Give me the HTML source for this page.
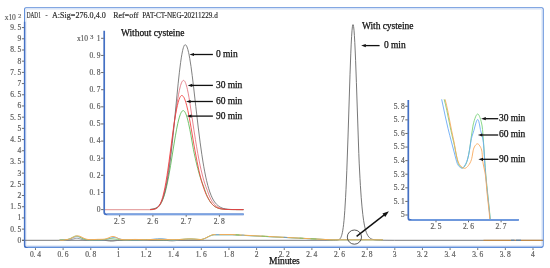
<!DOCTYPE html>
<html lang="en"><head><meta charset="utf-8"><title>Chromatogram</title>
<style>
html,body{margin:0;padding:0;background:#fff;}
body{width:550px;height:268px;overflow:hidden;}
svg{display:block;}
text{white-space:pre;}
</style></head><body>
<svg width="550" height="268" viewBox="0 0 550 268">
<rect x="0" y="0" width="550" height="268" fill="#ffffff"/>
<path d="M24.6,247.35 L24.6,9.1 Q24.6,7.8 25.900000000000002,7.8 L541.9000000000001,7.8 Q543.2,7.8 543.2,9.1 L543.2,245.35 Q543.2,247.35 541.2,247.35" fill="none" stroke="#5b8bd9" stroke-width="1.1"/>
<path d="M26.0,245.75 L26.0,9.2 L541.8000000000001,9.2 L541.8000000000001,245.75 Z" fill="none" stroke="#dfe8f7" stroke-width="1"/>
<path d="M22.40,240.30 L333.20,240.30 L335.60,240.27 L337.20,240.16 L338.40,239.90 L339.20,239.51 L339.60,239.21 L340.00,238.81 L340.40,238.29 L340.80,237.61 L341.20,236.73 L341.60,235.61 L342.00,234.19 L342.40,232.42 L342.80,230.23 L343.20,227.55 L343.60,224.32 L344.00,220.45 L344.40,215.87 L344.80,210.52 L345.60,197.29 L346.00,189.34 L346.80,170.75 L348.00,136.97 L350.00,74.75 L350.80,53.17 L351.20,44.14 L351.60,36.61 L352.00,30.76 L352.40,26.78 L352.80,24.75 L353.20,24.73 L353.60,26.59 L354.00,30.26 L354.40,35.64 L354.80,42.60 L355.20,50.97 L355.60,60.55 L356.40,82.43 L358.80,153.41 L359.20,163.10 L360.00,178.72 L360.40,185.55 L361.20,197.34 L362.00,206.87 L362.80,214.47 L363.60,220.45 L364.40,225.12 L365.20,228.72 L365.60,230.20 L366.40,232.62 L366.80,233.61 L367.60,235.22 L368.00,235.87 L368.80,236.94 L369.60,237.75 L370.40,238.36 L371.60,239.01 L372.80,239.44 L374.40,239.80 L376.00,240.00 L378.00,240.14 L380.80,240.23 L394.40,240.30 L542.80,240.30" fill="none" stroke="#5e5e5e" stroke-width="0.85" stroke-linejoin="round" stroke-linecap="round" />
<path d="M60.40,240.30 L66.00,240.25 L67.60,240.17 L68.80,240.06 L70.00,239.87 L71.20,239.60 L74.00,238.79 L75.20,238.49 L76.40,238.32 L77.20,238.30 L78.00,238.36 L79.20,238.58 L82.40,239.50 L83.60,239.79 L84.80,240.00 L86.00,240.14 L87.60,240.24 L89.60,240.29 L101.20,240.31 L104.00,240.36 L106.00,240.53 L109.60,241.14 L111.20,241.30 L112.80,241.22 L116.00,240.67 L117.60,240.46 L119.20,240.36 L121.20,240.31 L163.60,240.31 L166.40,240.41 L170.40,240.82 L172.00,240.90 L173.60,240.82 L177.20,240.43 L179.60,240.32 L200.00,240.30" fill="none" stroke="#777" stroke-width="0.7" stroke-linejoin="round" stroke-linecap="round" />
<path d="M60.00,239.87 L65.00,239.79 L66.50,239.69 L68.00,239.48 L69.50,239.12 L70.50,238.80 L74.00,237.34 L75.00,236.99 L76.00,236.75 L77.00,236.67 L78.00,236.75 L79.00,236.99 L80.00,237.34 L83.00,238.61 L84.00,238.97 L85.00,239.26 L86.00,239.48 L87.00,239.63 L88.50,239.77 L90.00,239.83 L100.50,239.86 L103.00,239.79 L104.50,239.69 L106.00,239.48 L107.50,239.15 L111.00,238.01 L112.00,237.73 L113.00,237.54 L114.00,237.47 L115.00,237.54 L116.00,237.73 L117.00,238.01 L120.00,239.01 L121.50,239.39 L123.50,239.69 L126.00,239.83 L140.00,239.87 L146.50,239.77 L148.50,239.67 L150.50,239.50 L157.50,238.68 L160.00,238.57 L162.00,238.64 L164.00,238.85 L166.50,239.26 L170.50,240.11 L171.50,240.24 L172.50,240.29 L174.00,240.22 L177.50,239.82 L179.50,239.66 L185.50,239.30 L188.50,239.19 L190.50,239.17 L193.00,239.23 L200.50,239.63 L201.00,239.60 L202.00,239.45 L203.00,239.19 L204.00,238.84 L205.50,238.19 L209.50,236.21 L211.50,235.39 L213.00,234.98 L214.00,234.85 L214.50,234.84 L232.00,234.84 L332.00,239.87 L382.50,239.87" fill="none" stroke="#5fa8e8" stroke-width="0.8" stroke-linejoin="round" stroke-linecap="round" />
<path d="M60.00,239.86 L64.50,239.79 L66.00,239.67 L67.50,239.43 L69.00,239.00 L70.00,238.60 L71.00,238.10 L73.50,236.74 L74.50,236.31 L75.50,236.03 L76.50,235.97 L77.50,236.12 L78.50,236.46 L79.50,236.95 L82.00,238.31 L83.00,238.77 L84.00,239.14 L85.00,239.41 L86.00,239.59 L87.50,239.75 L89.00,239.82 L96.50,239.86 L101.00,239.76 L104.00,239.51 L109.00,238.78 L111.00,238.66 L113.00,238.78 L117.50,239.44 L119.50,239.66 L121.50,239.78 L124.50,239.85 L137.50,239.83 L150.00,239.56 L162.50,239.83 L172.50,239.82 L178.00,239.63 L186.50,238.98 L190.00,238.86 L193.50,238.98 L200.50,239.52 L201.00,239.50 L202.00,239.37 L203.00,239.12 L204.00,238.77 L205.50,238.12 L209.50,236.11 L211.50,235.28 L213.00,234.87 L214.00,234.74 L214.50,234.72 L232.00,234.72 L332.00,239.86 L382.50,239.86" fill="none" stroke="#7cc46a" stroke-width="0.8" stroke-linejoin="round" stroke-linecap="round" />
<path d="M60.00,240.05 L61.50,240.31 L62.50,240.30 L64.50,239.91 L67.00,239.57 L68.50,239.28 L69.50,239.00 L71.00,238.42 L74.50,236.66 L75.50,236.25 L76.50,235.96 L77.50,235.85 L78.50,235.93 L79.00,236.03 L80.00,236.36 L81.00,236.80 L84.00,238.32 L85.00,238.73 L86.00,239.06 L87.00,239.31 L88.00,239.47 L90.00,239.62 L92.00,239.61 L97.50,239.39 L102.50,239.29 L104.50,239.13 L106.00,238.83 L107.00,238.53 L111.00,236.84 L112.00,236.58 L113.00,236.50 L114.00,236.62 L115.00,236.92 L116.00,237.34 L118.50,238.56 L120.00,239.13 L121.00,239.39 L122.00,239.57 L124.00,239.74 L127.00,239.73 L132.50,239.50 L135.00,239.45 L137.50,239.49 L143.00,239.69 L146.50,239.70 L156.50,239.40 L160.00,239.35 L163.50,239.39 L171.50,239.64 L175.50,239.67 L179.50,239.53 L187.00,239.03 L190.00,238.95 L193.50,239.06 L200.50,239.54 L201.00,239.52 L202.00,239.37 L203.00,239.10 L204.00,238.74 L205.50,238.06 L209.50,235.99 L210.50,235.53 L211.50,235.13 L213.00,234.70 L214.00,234.57 L214.50,234.55 L232.00,234.55 L332.00,239.85 L382.50,239.85" fill="none" stroke="#f7ab55" stroke-width="0.95" stroke-linejoin="round" stroke-linecap="round" />
<path d="M236.00,234.76 L239.00,234.92" fill="none" stroke="#7cc46a" stroke-width="0.9" stroke-linejoin="round" stroke-linecap="round" />
<path d="M262.00,236.14 L265.00,236.30" fill="none" stroke="#7cc46a" stroke-width="0.9" stroke-linejoin="round" stroke-linecap="round" />
<path d="M266.00,236.35 L268.00,236.46" fill="none" stroke="#7cc46a" stroke-width="0.9" stroke-linejoin="round" stroke-linecap="round" />
<path d="M284.00,237.31 L287.00,237.47" fill="none" stroke="#5b9ad0" stroke-width="0.9" stroke-linejoin="round" stroke-linecap="round" />
<path d="M300.00,238.15 L303.00,238.31" fill="none" stroke="#7cc46a" stroke-width="0.9" stroke-linejoin="round" stroke-linecap="round" />
<path d="M311.00,238.74 L316.00,239.00" fill="none" stroke="#7cc46a" stroke-width="0.9" stroke-linejoin="round" stroke-linecap="round" />
<path d="M242.00,235.08 L244.00,235.19" fill="none" stroke="#8fb4d8" stroke-width="0.9" stroke-linejoin="round" stroke-linecap="round" />
<path d="M216.00,234.55 L219.00,234.55" fill="none" stroke="#6fb0e0" stroke-width="0.9" stroke-linejoin="round" stroke-linecap="round" />
<line x1="483.5" y1="240.3" x2="542.6" y2="240.3" stroke="#c98738" stroke-width="1.0"/>
<line x1="511" y1="240.20000000000002" x2="514.5" y2="240.20000000000002" stroke="#3f7fc0" stroke-width="1.0"/>
<line x1="516" y1="240.20000000000002" x2="521" y2="240.20000000000002" stroke="#3f7fc0" stroke-width="1.0"/>
<path d="M24.6,21.8 L24.6,245.15 Q24.6,247.35 26.8,247.35 L541.7,247.35" fill="none" stroke="#4470c4" stroke-width="1.45"/>
<path d="M27.6,247.35 L541.7,247.35" fill="none" stroke="#5f8fdb" stroke-width="1.45"/>
<line x1="21.9" y1="240.30" x2="24.0" y2="240.30" stroke="#585858" stroke-width="0.9"/>
<text y="242.70" font-family='"Liberation Serif", "DejaVu Serif", serif' fill="#5c5c5c" stroke="#5c5c5c" stroke-width="0.18" xml:space="preserve"><tspan font-size="7.5" x="17.54">0</tspan></text>
<line x1="21.9" y1="229.11" x2="24.0" y2="229.11" stroke="#585858" stroke-width="0.9"/>
<text y="231.51" font-family='"Liberation Serif", "DejaVu Serif", serif' fill="#5c5c5c" stroke="#5c5c5c" stroke-width="0.18" xml:space="preserve"><tspan font-size="7.5" x="10.32 13.93 17.54">0.5</tspan></text>
<line x1="21.9" y1="217.91" x2="24.0" y2="217.91" stroke="#585858" stroke-width="0.9"/>
<text y="220.31" font-family='"Liberation Serif", "DejaVu Serif", serif' fill="#5c5c5c" stroke="#5c5c5c" stroke-width="0.18" xml:space="preserve"><tspan font-size="7.5" x="17.54">1</tspan></text>
<line x1="21.9" y1="206.72" x2="24.0" y2="206.72" stroke="#585858" stroke-width="0.9"/>
<text y="209.12" font-family='"Liberation Serif", "DejaVu Serif", serif' fill="#5c5c5c" stroke="#5c5c5c" stroke-width="0.18" xml:space="preserve"><tspan font-size="7.5" x="10.32 13.93 17.54">1.5</tspan></text>
<line x1="21.9" y1="195.52" x2="24.0" y2="195.52" stroke="#585858" stroke-width="0.9"/>
<text y="197.92" font-family='"Liberation Serif", "DejaVu Serif", serif' fill="#5c5c5c" stroke="#5c5c5c" stroke-width="0.18" xml:space="preserve"><tspan font-size="7.5" x="17.54">2</tspan></text>
<line x1="21.9" y1="184.33" x2="24.0" y2="184.33" stroke="#585858" stroke-width="0.9"/>
<text y="186.73" font-family='"Liberation Serif", "DejaVu Serif", serif' fill="#5c5c5c" stroke="#5c5c5c" stroke-width="0.18" xml:space="preserve"><tspan font-size="7.5" x="10.32 13.93 17.54">2.5</tspan></text>
<line x1="21.9" y1="173.13" x2="24.0" y2="173.13" stroke="#585858" stroke-width="0.9"/>
<text y="175.53" font-family='"Liberation Serif", "DejaVu Serif", serif' fill="#5c5c5c" stroke="#5c5c5c" stroke-width="0.18" xml:space="preserve"><tspan font-size="7.5" x="17.54">3</tspan></text>
<line x1="21.9" y1="161.94" x2="24.0" y2="161.94" stroke="#585858" stroke-width="0.9"/>
<text y="164.34" font-family='"Liberation Serif", "DejaVu Serif", serif' fill="#5c5c5c" stroke="#5c5c5c" stroke-width="0.18" xml:space="preserve"><tspan font-size="7.5" x="10.32 13.93 17.54">3.5</tspan></text>
<line x1="21.9" y1="150.74" x2="24.0" y2="150.74" stroke="#585858" stroke-width="0.9"/>
<text y="153.14" font-family='"Liberation Serif", "DejaVu Serif", serif' fill="#5c5c5c" stroke="#5c5c5c" stroke-width="0.18" xml:space="preserve"><tspan font-size="7.5" x="17.54">4</tspan></text>
<line x1="21.9" y1="139.55" x2="24.0" y2="139.55" stroke="#585858" stroke-width="0.9"/>
<text y="141.95" font-family='"Liberation Serif", "DejaVu Serif", serif' fill="#5c5c5c" stroke="#5c5c5c" stroke-width="0.18" xml:space="preserve"><tspan font-size="7.5" x="10.32 13.93 17.54">4.5</tspan></text>
<line x1="21.9" y1="128.35" x2="24.0" y2="128.35" stroke="#585858" stroke-width="0.9"/>
<text y="130.75" font-family='"Liberation Serif", "DejaVu Serif", serif' fill="#5c5c5c" stroke="#5c5c5c" stroke-width="0.18" xml:space="preserve"><tspan font-size="7.5" x="17.54">5</tspan></text>
<line x1="21.9" y1="117.16" x2="24.0" y2="117.16" stroke="#585858" stroke-width="0.9"/>
<text y="119.56" font-family='"Liberation Serif", "DejaVu Serif", serif' fill="#5c5c5c" stroke="#5c5c5c" stroke-width="0.18" xml:space="preserve"><tspan font-size="7.5" x="10.32 13.93 17.54">5.5</tspan></text>
<line x1="21.9" y1="105.96" x2="24.0" y2="105.96" stroke="#585858" stroke-width="0.9"/>
<text y="108.36" font-family='"Liberation Serif", "DejaVu Serif", serif' fill="#5c5c5c" stroke="#5c5c5c" stroke-width="0.18" xml:space="preserve"><tspan font-size="7.5" x="17.54">6</tspan></text>
<line x1="21.9" y1="94.77" x2="24.0" y2="94.77" stroke="#585858" stroke-width="0.9"/>
<text y="97.17" font-family='"Liberation Serif", "DejaVu Serif", serif' fill="#5c5c5c" stroke="#5c5c5c" stroke-width="0.18" xml:space="preserve"><tspan font-size="7.5" x="10.32 13.93 17.54">6.5</tspan></text>
<line x1="21.9" y1="83.57" x2="24.0" y2="83.57" stroke="#585858" stroke-width="0.9"/>
<text y="85.97" font-family='"Liberation Serif", "DejaVu Serif", serif' fill="#5c5c5c" stroke="#5c5c5c" stroke-width="0.18" xml:space="preserve"><tspan font-size="7.5" x="17.54">7</tspan></text>
<line x1="21.9" y1="72.38" x2="24.0" y2="72.38" stroke="#585858" stroke-width="0.9"/>
<text y="74.78" font-family='"Liberation Serif", "DejaVu Serif", serif' fill="#5c5c5c" stroke="#5c5c5c" stroke-width="0.18" xml:space="preserve"><tspan font-size="7.5" x="10.32 13.93 17.54">7.5</tspan></text>
<line x1="21.9" y1="61.18" x2="24.0" y2="61.18" stroke="#585858" stroke-width="0.9"/>
<text y="63.58" font-family='"Liberation Serif", "DejaVu Serif", serif' fill="#5c5c5c" stroke="#5c5c5c" stroke-width="0.18" xml:space="preserve"><tspan font-size="7.5" x="17.54">8</tspan></text>
<line x1="21.9" y1="49.99" x2="24.0" y2="49.99" stroke="#585858" stroke-width="0.9"/>
<text y="52.39" font-family='"Liberation Serif", "DejaVu Serif", serif' fill="#5c5c5c" stroke="#5c5c5c" stroke-width="0.18" xml:space="preserve"><tspan font-size="7.5" x="10.32 13.93 17.54">8.5</tspan></text>
<line x1="21.9" y1="38.79" x2="24.0" y2="38.79" stroke="#585858" stroke-width="0.9"/>
<text y="41.19" font-family='"Liberation Serif", "DejaVu Serif", serif' fill="#5c5c5c" stroke="#5c5c5c" stroke-width="0.18" xml:space="preserve"><tspan font-size="7.5" x="17.54">9</tspan></text>
<line x1="21.9" y1="27.59" x2="24.0" y2="27.59" stroke="#585858" stroke-width="0.9"/>
<text y="29.99" font-family='"Liberation Serif", "DejaVu Serif", serif' fill="#5c5c5c" stroke="#5c5c5c" stroke-width="0.18" xml:space="preserve"><tspan font-size="7.5" x="10.32 13.93 17.54">9.5</tspan></text>
<text y="19.90" font-family='"Liberation Serif", "DejaVu Serif", serif' fill="#5c5c5c" stroke="#5c5c5c" stroke-width="0.18" xml:space="preserve"><tspan font-size="7.5" x="4.85 8.46 12.07">x10</tspan></text>
<text y="18.20" font-family='"Liberation Serif", "DejaVu Serif", serif' fill="#5c5c5c" stroke="#5c5c5c" stroke-width="0.18" xml:space="preserve"><tspan font-size="6.2" x="18.35">2</tspan></text>
<text y="17.80" font-family='"Liberation Serif", "DejaVu Serif", serif' fill="#2a2a2a" stroke="#2a2a2a" stroke-width="0.18" xml:space="preserve"><tspan font-size="7.7" stroke-width="0.16" x="26.70" textLength="14.14" lengthAdjust="spacingAndGlyphs">DAD1</tspan> <tspan font-size="7.7" stroke="none" x="45.25">-</tspan> <tspan font-size="7.7" stroke-width="0.16" x="51.97" textLength="53.85" lengthAdjust="spacingAndGlyphs">A:Sig=276.0,4.0</tspan>  <tspan font-size="7.7" stroke-width="0.16" x="113.34" textLength="24.97" lengthAdjust="spacingAndGlyphs">Ref=off</tspan> <tspan font-size="7.7" stroke-width="0.16" x="142.22" textLength="75.51" lengthAdjust="spacingAndGlyphs">PAT-CT-NEG-20211229.d</tspan></text>
<line x1="35.48" y1="248.15" x2="35.48" y2="249.95" stroke="#585858" stroke-width="0.9"/>
<text y="256.70" font-family='"Liberation Serif", "DejaVu Serif", serif' fill="#5c5c5c" stroke="#5c5c5c" stroke-width="0.18" xml:space="preserve"><tspan font-size="7.5" x="29.92 33.53 37.14">0.4</tspan></text>
<line x1="63.12" y1="248.15" x2="63.12" y2="249.95" stroke="#585858" stroke-width="0.9"/>
<text y="256.70" font-family='"Liberation Serif", "DejaVu Serif", serif' fill="#5c5c5c" stroke="#5c5c5c" stroke-width="0.18" xml:space="preserve"><tspan font-size="7.5" x="57.56 61.17 64.78">0.6</tspan></text>
<line x1="90.76" y1="248.15" x2="90.76" y2="249.95" stroke="#585858" stroke-width="0.9"/>
<text y="256.70" font-family='"Liberation Serif", "DejaVu Serif", serif' fill="#5c5c5c" stroke="#5c5c5c" stroke-width="0.18" xml:space="preserve"><tspan font-size="7.5" x="85.20 88.81 92.42">0.8</tspan></text>
<line x1="118.40" y1="248.15" x2="118.40" y2="249.95" stroke="#585858" stroke-width="0.9"/>
<text y="256.70" font-family='"Liberation Serif", "DejaVu Serif", serif' fill="#5c5c5c" stroke="#5c5c5c" stroke-width="0.18" xml:space="preserve"><tspan font-size="7.5" x="116.44">1</tspan></text>
<line x1="146.04" y1="248.15" x2="146.04" y2="249.95" stroke="#585858" stroke-width="0.9"/>
<text y="256.70" font-family='"Liberation Serif", "DejaVu Serif", serif' fill="#5c5c5c" stroke="#5c5c5c" stroke-width="0.18" xml:space="preserve"><tspan font-size="7.5" x="140.47 144.09 147.69">1.2</tspan></text>
<line x1="173.68" y1="248.15" x2="173.68" y2="249.95" stroke="#585858" stroke-width="0.9"/>
<text y="256.70" font-family='"Liberation Serif", "DejaVu Serif", serif' fill="#5c5c5c" stroke="#5c5c5c" stroke-width="0.18" xml:space="preserve"><tspan font-size="7.5" x="168.11 171.72 175.33">1.4</tspan></text>
<line x1="201.32" y1="248.15" x2="201.32" y2="249.95" stroke="#585858" stroke-width="0.9"/>
<text y="256.70" font-family='"Liberation Serif", "DejaVu Serif", serif' fill="#5c5c5c" stroke="#5c5c5c" stroke-width="0.18" xml:space="preserve"><tspan font-size="7.5" x="195.75 199.37 202.97">1.6</tspan></text>
<line x1="228.96" y1="248.15" x2="228.96" y2="249.95" stroke="#585858" stroke-width="0.9"/>
<text y="256.70" font-family='"Liberation Serif", "DejaVu Serif", serif' fill="#5c5c5c" stroke="#5c5c5c" stroke-width="0.18" xml:space="preserve"><tspan font-size="7.5" x="223.40 227.01 230.62">1.8</tspan></text>
<line x1="256.60" y1="248.15" x2="256.60" y2="249.95" stroke="#585858" stroke-width="0.9"/>
<text y="256.70" font-family='"Liberation Serif", "DejaVu Serif", serif' fill="#5c5c5c" stroke="#5c5c5c" stroke-width="0.18" xml:space="preserve"><tspan font-size="7.5" x="254.65">2</tspan></text>
<line x1="284.24" y1="248.15" x2="284.24" y2="249.95" stroke="#585858" stroke-width="0.9"/>
<text y="256.70" font-family='"Liberation Serif", "DejaVu Serif", serif' fill="#5c5c5c" stroke="#5c5c5c" stroke-width="0.18" xml:space="preserve"><tspan font-size="7.5" x="278.68 282.29 285.90">2.2</tspan></text>
<line x1="311.88" y1="248.15" x2="311.88" y2="249.95" stroke="#585858" stroke-width="0.9"/>
<text y="256.70" font-family='"Liberation Serif", "DejaVu Serif", serif' fill="#5c5c5c" stroke="#5c5c5c" stroke-width="0.18" xml:space="preserve"><tspan font-size="7.5" x="306.31 309.93 313.54">2.4</tspan></text>
<line x1="339.52" y1="248.15" x2="339.52" y2="249.95" stroke="#585858" stroke-width="0.9"/>
<text y="256.70" font-family='"Liberation Serif", "DejaVu Serif", serif' fill="#5c5c5c" stroke="#5c5c5c" stroke-width="0.18" xml:space="preserve"><tspan font-size="7.5" x="333.95 337.56 341.18">2.6</tspan></text>
<line x1="367.16" y1="248.15" x2="367.16" y2="249.95" stroke="#585858" stroke-width="0.9"/>
<text y="256.70" font-family='"Liberation Serif", "DejaVu Serif", serif' fill="#5c5c5c" stroke="#5c5c5c" stroke-width="0.18" xml:space="preserve"><tspan font-size="7.5" x="361.59 365.20 368.81">2.8</tspan></text>
<line x1="394.80" y1="248.15" x2="394.80" y2="249.95" stroke="#585858" stroke-width="0.9"/>
<text y="256.70" font-family='"Liberation Serif", "DejaVu Serif", serif' fill="#5c5c5c" stroke="#5c5c5c" stroke-width="0.18" xml:space="preserve"><tspan font-size="7.5" x="392.84">3</tspan></text>
<line x1="422.44" y1="248.15" x2="422.44" y2="249.95" stroke="#585858" stroke-width="0.9"/>
<text y="256.70" font-family='"Liberation Serif", "DejaVu Serif", serif' fill="#5c5c5c" stroke="#5c5c5c" stroke-width="0.18" xml:space="preserve"><tspan font-size="7.5" x="416.88 420.49 424.10">3.2</tspan></text>
<line x1="450.08" y1="248.15" x2="450.08" y2="249.95" stroke="#585858" stroke-width="0.9"/>
<text y="256.70" font-family='"Liberation Serif", "DejaVu Serif", serif' fill="#5c5c5c" stroke="#5c5c5c" stroke-width="0.18" xml:space="preserve"><tspan font-size="7.5" x="444.51 448.12 451.73">3.4</tspan></text>
<line x1="477.72" y1="248.15" x2="477.72" y2="249.95" stroke="#585858" stroke-width="0.9"/>
<text y="256.70" font-family='"Liberation Serif", "DejaVu Serif", serif' fill="#5c5c5c" stroke="#5c5c5c" stroke-width="0.18" xml:space="preserve"><tspan font-size="7.5" x="472.16 475.77 479.38">3.6</tspan></text>
<line x1="505.36" y1="248.15" x2="505.36" y2="249.95" stroke="#585858" stroke-width="0.9"/>
<text y="256.70" font-family='"Liberation Serif", "DejaVu Serif", serif' fill="#5c5c5c" stroke="#5c5c5c" stroke-width="0.18" xml:space="preserve"><tspan font-size="7.5" x="499.79 503.40 507.01">3.8</tspan></text>
<line x1="533.00" y1="248.15" x2="533.00" y2="249.95" stroke="#585858" stroke-width="0.9"/>
<text y="256.70" font-family='"Liberation Serif", "DejaVu Serif", serif' fill="#5c5c5c" stroke="#5c5c5c" stroke-width="0.18" xml:space="preserve"><tspan font-size="7.5" x="531.05">4</tspan></text>
<text x="269" y="264" font-family='"Liberation Serif", "DejaVu Serif", serif' font-size="9.5" fill="#111" text-anchor="start" stroke="#111" stroke-width="0.25" letter-spacing="-0.06">Minutes</text>
<circle cx="354.4" cy="237.1" r="7.1" fill="none" stroke="#444" stroke-width="0.9"/>
<line x1="356.60" y1="236.40" x2="384.24" y2="214.92" stroke="#111" stroke-width="1.45"/>
<polygon points="388.90,211.30 385.26,217.04 382.44,213.41" fill="#111"/>
<text x="362" y="29" font-family='"Liberation Serif", "DejaVu Serif", serif' font-size="9.5" fill="#111" text-anchor="start" stroke="#111" stroke-width="0.25" letter-spacing="-0.06">With cysteine</text>
<line x1="379.60" y1="45.60" x2="365.30" y2="45.60" stroke="#111" stroke-width="1.3"/>
<polygon points="361.20,45.60 365.80,44.00 365.80,47.20" fill="#111"/>
<text x="384" y="48" font-family='"Liberation Serif", "DejaVu Serif", serif' font-size="9.5" fill="#111" text-anchor="start" stroke="#111" stroke-width="0.25" letter-spacing="-0.06">0 min</text>
<line x1="105.0" y1="209.6" x2="152.5" y2="209.6" stroke="#e6a6a6" stroke-width="1.25"/>
<line x1="236" y1="209.6" x2="243.6" y2="209.6" stroke="#efb0b0" stroke-width="1.2"/>
<path d="M150.60,209.48 L152.20,209.34 L153.40,209.16 L154.60,208.88 L155.40,208.61 L156.20,208.27 L157.00,207.82 L157.80,207.26 L158.60,206.56 L159.40,205.69 L160.20,204.64 L161.00,203.37 L161.40,202.64 L162.60,200.07 L163.80,196.86 L165.00,192.94 L166.20,188.29 L167.40,182.90 L168.60,176.82 L170.60,165.41 L174.20,143.04 L175.40,135.87 L176.60,129.23 L177.80,123.36 L178.60,120.00 L179.40,117.11 L180.20,114.71 L180.60,113.70 L181.00,112.83 L181.40,112.10 L181.80,111.51 L182.20,111.07 L182.60,110.77 L183.00,110.62 L183.40,110.62 L183.80,110.77 L184.20,111.07 L184.60,111.53 L185.00,112.13 L185.40,112.88 L185.80,113.76 L186.60,115.95 L187.00,117.24 L187.80,120.17 L188.60,123.55 L189.80,129.30 L191.00,135.70 L193.00,147.20 L193.40,149.35 L194.20,153.20 L195.40,158.72 L196.60,163.89 L197.80,168.69 L199.00,173.09 L200.20,177.10 L201.40,180.72 L202.60,183.98 L203.80,186.92 L204.60,189.41 L205.80,192.80 L206.60,194.81 L207.40,196.64 L208.20,198.30 L209.40,200.47 L210.20,201.72 L211.40,203.34 L212.60,204.68 L213.80,205.77 L215.00,206.64 L216.20,207.34 L217.80,208.05 L219.40,208.55 L221.00,208.91 L222.60,209.15 L224.60,209.34 L226.60,209.46 L231.80,209.57 L243.00,209.60" fill="none" stroke="#55b74f" stroke-width="0.85" stroke-linejoin="round" stroke-linecap="round" />
<path d="M150.60,209.54 L152.20,209.45 L153.80,209.25 L155.00,208.97 L155.80,208.68 L156.60,208.30 L157.40,207.79 L158.20,207.12 L159.00,206.26 L159.80,205.17 L160.60,203.81 L161.40,202.15 L161.80,201.19 L162.60,198.99 L163.00,197.74 L164.20,193.36 L165.40,187.98 L166.20,183.82 L167.00,179.19 L168.20,171.45 L169.40,162.82 L170.60,153.49 L174.60,120.65 L176.20,109.10 L177.80,98.74 L178.60,94.22 L179.40,90.24 L180.20,86.86 L180.60,85.42 L181.40,83.06 L181.80,82.15 L182.20,81.42 L182.60,80.89 L183.00,80.55 L183.40,80.41 L183.80,80.45 L184.20,80.70 L184.60,81.13 L185.00,81.76 L185.40,82.58 L185.80,83.58 L186.20,84.76 L187.00,87.65 L187.40,89.34 L188.20,93.17 L189.00,97.57 L189.80,102.44 L193.80,129.19 L195.40,139.44 L196.60,146.75 L197.80,153.63 L199.00,160.01 L200.20,165.88 L201.00,169.50 L202.60,176.04 L203.40,178.98 L204.60,182.97 L205.80,186.51 L207.40,190.64 L208.60,194.04 L209.40,196.03 L210.20,197.82 L211.00,199.42 L212.20,201.48 L213.40,203.19 L214.60,204.59 L215.80,205.72 L217.00,206.62 L217.80,207.12 L218.60,207.54 L220.20,208.20 L221.80,208.66 L223.40,208.99 L225.40,209.25 L227.40,209.40 L232.60,209.56 L243.00,209.60" fill="none" stroke="#e2707c" stroke-width="0.85" stroke-linejoin="round" stroke-linecap="round" />
<path d="M150.60,209.35 L152.20,209.15 L153.80,208.82 L155.00,208.43 L156.20,207.88 L157.40,207.11 L158.20,206.44 L159.40,205.15 L160.20,204.05 L161.00,202.72 L161.80,201.15 L162.60,199.28 L163.40,197.08 L164.20,194.53 L165.00,191.58 L166.20,186.34 L167.40,180.04 L168.60,172.62 L169.80,164.06 L171.00,154.38 L172.20,143.68 L173.40,132.13 L177.00,95.10 L178.20,83.19 L179.40,72.21 L180.60,62.58 L181.40,57.13 L181.80,54.72 L182.60,50.64 L183.00,48.97 L183.40,47.57 L183.80,46.44 L184.20,45.59 L184.60,45.02 L185.00,44.74 L185.40,44.73 L185.80,44.95 L186.20,45.39 L186.60,46.05 L187.00,46.93 L187.40,48.02 L187.80,49.33 L188.60,52.53 L189.00,54.42 L189.80,58.75 L191.00,66.47 L192.20,75.43 L193.40,85.34 L195.80,106.56 L198.20,127.06 L200.20,142.88 L201.80,154.30 L203.00,162.02 L203.80,166.75 L204.60,171.14 L205.80,177.10 L206.60,180.67 L207.80,185.45 L208.60,188.27 L209.80,191.99 L211.00,195.16 L212.20,197.83 L213.40,200.07 L214.60,201.92 L215.80,203.45 L216.60,204.32 L217.40,205.07 L218.60,206.02 L219.80,206.84 L220.60,207.32 L222.20,208.06 L223.80,208.58 L225.80,209.01 L227.80,209.26 L230.20,209.44 L233.00,209.53 L243.00,209.60" fill="none" stroke="#6a6a6a" stroke-width="0.85" stroke-linejoin="round" stroke-linecap="round" />
<path d="M150.60,209.56 L153.00,209.39 L154.20,209.18 L155.00,208.96 L155.80,208.65 L156.60,208.22 L157.40,207.64 L158.20,206.86 L159.00,205.86 L159.40,205.26 L160.20,203.83 L160.60,203.00 L161.40,201.06 L161.80,199.94 L162.60,197.40 L163.00,195.97 L164.20,191.00 L165.00,187.12 L165.80,182.80 L167.00,175.52 L167.80,170.20 L169.00,161.66 L173.40,128.53 L174.60,120.32 L175.80,113.31 L176.60,109.15 L177.40,105.45 L178.20,102.26 L179.00,99.64 L179.80,97.63 L180.20,96.87 L180.60,96.27 L181.00,95.84 L181.40,95.59 L181.80,95.50 L182.20,95.57 L182.60,95.78 L183.00,96.13 L183.40,96.62 L183.80,97.24 L184.20,98.00 L184.60,98.89 L185.40,101.05 L185.80,102.31 L186.60,105.18 L187.80,110.26 L189.40,118.24 L191.00,127.21 L193.80,144.03 L195.00,150.74 L197.00,161.30 L199.00,170.79 L200.20,175.88 L201.00,179.02 L201.80,181.94 L203.00,185.94 L203.80,188.35 L205.00,191.60 L206.20,194.44 L207.40,196.90 L209.40,200.40 L210.20,201.66 L211.40,203.29 L212.60,204.64 L213.80,205.73 L214.60,206.34 L215.40,206.87 L216.60,207.52 L218.20,208.17 L219.80,208.63 L221.40,208.96 L223.40,209.23 L225.80,209.41 L228.20,209.51 L231.40,209.57 L243.00,209.60" fill="none" stroke="#f23a3a" stroke-width="0.85" stroke-linejoin="round" stroke-linecap="round" />
<path d="M104.2,30.8 L104.2,212.3 Q104.2,214.3 106.2,214.3 L243.7,214.3" fill="none" stroke="#4470c4" stroke-width="1.7"/>
<path d="M107.2,214.3 L243.7,214.3" fill="none" stroke="#7aa2e2" stroke-width="1.6"/>
<line x1="101.1" y1="209.60" x2="103.60000000000001" y2="209.60" stroke="#585858" stroke-width="0.9"/>
<text y="212.00" font-family='"Liberation Serif", "DejaVu Serif", serif' fill="#5c5c5c" stroke="#5c5c5c" stroke-width="0.18" xml:space="preserve"><tspan font-size="7.5" x="96.84">0</tspan></text>
<line x1="101.1" y1="192.47" x2="103.60000000000001" y2="192.47" stroke="#585858" stroke-width="0.9"/>
<text y="194.87" font-family='"Liberation Serif", "DejaVu Serif", serif' fill="#5c5c5c" stroke="#5c5c5c" stroke-width="0.18" xml:space="preserve"><tspan font-size="7.5" x="89.62 93.23 96.84">0.1</tspan></text>
<line x1="101.1" y1="175.34" x2="103.60000000000001" y2="175.34" stroke="#585858" stroke-width="0.9"/>
<text y="177.74" font-family='"Liberation Serif", "DejaVu Serif", serif' fill="#5c5c5c" stroke="#5c5c5c" stroke-width="0.18" xml:space="preserve"><tspan font-size="7.5" x="89.62 93.23 96.84">0.2</tspan></text>
<line x1="101.1" y1="158.21" x2="103.60000000000001" y2="158.21" stroke="#585858" stroke-width="0.9"/>
<text y="160.61" font-family='"Liberation Serif", "DejaVu Serif", serif' fill="#5c5c5c" stroke="#5c5c5c" stroke-width="0.18" xml:space="preserve"><tspan font-size="7.5" x="89.62 93.23 96.84">0.3</tspan></text>
<line x1="101.1" y1="141.08" x2="103.60000000000001" y2="141.08" stroke="#585858" stroke-width="0.9"/>
<text y="143.48" font-family='"Liberation Serif", "DejaVu Serif", serif' fill="#5c5c5c" stroke="#5c5c5c" stroke-width="0.18" xml:space="preserve"><tspan font-size="7.5" x="89.62 93.23 96.84">0.4</tspan></text>
<line x1="101.1" y1="123.95" x2="103.60000000000001" y2="123.95" stroke="#585858" stroke-width="0.9"/>
<text y="126.35" font-family='"Liberation Serif", "DejaVu Serif", serif' fill="#5c5c5c" stroke="#5c5c5c" stroke-width="0.18" xml:space="preserve"><tspan font-size="7.5" x="89.62 93.23 96.84">0.5</tspan></text>
<line x1="101.1" y1="106.82" x2="103.60000000000001" y2="106.82" stroke="#585858" stroke-width="0.9"/>
<text y="109.22" font-family='"Liberation Serif", "DejaVu Serif", serif' fill="#5c5c5c" stroke="#5c5c5c" stroke-width="0.18" xml:space="preserve"><tspan font-size="7.5" x="89.62 93.23 96.84">0.6</tspan></text>
<line x1="101.1" y1="89.69" x2="103.60000000000001" y2="89.69" stroke="#585858" stroke-width="0.9"/>
<text y="92.09" font-family='"Liberation Serif", "DejaVu Serif", serif' fill="#5c5c5c" stroke="#5c5c5c" stroke-width="0.18" xml:space="preserve"><tspan font-size="7.5" x="89.62 93.23 96.84">0.7</tspan></text>
<line x1="101.1" y1="72.56" x2="103.60000000000001" y2="72.56" stroke="#585858" stroke-width="0.9"/>
<text y="74.96" font-family='"Liberation Serif", "DejaVu Serif", serif' fill="#5c5c5c" stroke="#5c5c5c" stroke-width="0.18" xml:space="preserve"><tspan font-size="7.5" x="89.62 93.23 96.84">0.8</tspan></text>
<line x1="101.1" y1="55.43" x2="103.60000000000001" y2="55.43" stroke="#585858" stroke-width="0.9"/>
<text y="57.83" font-family='"Liberation Serif", "DejaVu Serif", serif' fill="#5c5c5c" stroke="#5c5c5c" stroke-width="0.18" xml:space="preserve"><tspan font-size="7.5" x="89.62 93.23 96.84">0.9</tspan></text>
<line x1="101.1" y1="38.30" x2="103.60000000000001" y2="38.30" stroke="#585858" stroke-width="0.9"/>
<text y="40.70" font-family='"Liberation Serif", "DejaVu Serif", serif' fill="#5c5c5c" stroke="#5c5c5c" stroke-width="0.18" xml:space="preserve"><tspan font-size="7.5" x="96.84">1</tspan></text>
<text y="40.60" font-family='"Liberation Serif", "DejaVu Serif", serif' fill="#5c5c5c" stroke="#5c5c5c" stroke-width="0.18" xml:space="preserve"><tspan font-size="7.5" x="76.95 80.56 84.17">x10</tspan></text>
<text y="38.60" font-family='"Liberation Serif", "DejaVu Serif", serif' fill="#5c5c5c" stroke="#5c5c5c" stroke-width="0.18" xml:space="preserve"><tspan font-size="6.2" x="90.35">3</tspan></text>
<line x1="119.60" y1="215.10000000000002" x2="119.60" y2="216.70000000000002" stroke="#585858" stroke-width="0.9"/>
<text y="223.60" font-family='"Liberation Serif", "DejaVu Serif", serif' fill="#5c5c5c" stroke="#5c5c5c" stroke-width="0.18" xml:space="preserve"><tspan font-size="7.5" x="114.03 117.64 121.25">2.5</tspan></text>
<line x1="152.90" y1="215.10000000000002" x2="152.90" y2="216.70000000000002" stroke="#585858" stroke-width="0.9"/>
<text y="223.60" font-family='"Liberation Serif", "DejaVu Serif", serif' fill="#5c5c5c" stroke="#5c5c5c" stroke-width="0.18" xml:space="preserve"><tspan font-size="7.5" x="147.34 150.95 154.56">2.6</tspan></text>
<line x1="186.20" y1="215.10000000000002" x2="186.20" y2="216.70000000000002" stroke="#585858" stroke-width="0.9"/>
<text y="223.60" font-family='"Liberation Serif", "DejaVu Serif", serif' fill="#5c5c5c" stroke="#5c5c5c" stroke-width="0.18" xml:space="preserve"><tspan font-size="7.5" x="180.63 184.25 187.85">2.7</tspan></text>
<line x1="219.40" y1="215.10000000000002" x2="219.40" y2="216.70000000000002" stroke="#585858" stroke-width="0.9"/>
<text y="223.60" font-family='"Liberation Serif", "DejaVu Serif", serif' fill="#5c5c5c" stroke="#5c5c5c" stroke-width="0.18" xml:space="preserve"><tspan font-size="7.5" x="213.84 217.45 221.06">2.8</tspan></text>
<text x="121" y="36" font-family='"Liberation Serif", "DejaVu Serif", serif' font-size="9.5" fill="#111" text-anchor="start" stroke="#111" stroke-width="0.25" letter-spacing="-0.06">Without cysteine</text>
<line x1="212.90" y1="54.50" x2="193.50" y2="54.50" stroke="#111" stroke-width="1.3"/>
<polygon points="189.40,54.50 194.00,52.90 194.00,56.10" fill="#111"/>
<text x="216" y="57" font-family='"Liberation Serif", "DejaVu Serif", serif' font-size="9.5" fill="#111" text-anchor="start" stroke="#111" stroke-width="0.25" letter-spacing="-0.06">0 min</text>
<line x1="212.90" y1="85.40" x2="191.80" y2="85.40" stroke="#111" stroke-width="1.3"/>
<polygon points="187.70,85.40 192.30,83.80 192.30,87.00" fill="#111"/>
<text x="216" y="88" font-family='"Liberation Serif", "DejaVu Serif", serif' font-size="9.5" fill="#111" text-anchor="start" stroke="#111" stroke-width="0.25" letter-spacing="-0.06">30 min</text>
<line x1="212.90" y1="101.50" x2="190.10" y2="101.50" stroke="#111" stroke-width="1.3"/>
<polygon points="186.00,101.50 190.60,99.90 190.60,103.10" fill="#111"/>
<text x="216" y="104" font-family='"Liberation Serif", "DejaVu Serif", serif' font-size="9.5" fill="#111" text-anchor="start" stroke="#111" stroke-width="0.25" letter-spacing="-0.06">60 min</text>
<line x1="212.90" y1="116.10" x2="191.00" y2="116.10" stroke="#111" stroke-width="1.3"/>
<polygon points="186.90,116.10 191.50,114.50 191.50,117.70" fill="#111"/>
<text x="216" y="119" font-family='"Liberation Serif", "DejaVu Serif", serif' font-size="9.5" fill="#111" text-anchor="start" stroke="#111" stroke-width="0.25" letter-spacing="-0.06">90 min</text>
<clipPath id="rc"><rect x="408.3" y="99.3" width="112" height="120.6"/></clipPath>
<path d="M444.20,99.50 L445.58,104.86 L446.81,110.25 L450.92,130.37 L451.78,134.22 L453.78,142.67 L454.46,145.76 L456.75,157.39 L457.58,161.24 L458.01,162.74 L458.27,163.48 L458.95,164.91 L459.39,165.60 L459.90,166.27 L460.50,166.91 L461.17,167.47 L461.88,167.87 L462.58,168.00 L463.24,167.80 L463.86,167.32 L464.42,166.66 L464.93,165.92 L465.77,164.42 L466.43,162.96 L466.95,161.52 L467.58,159.34 L468.13,157.09 L468.62,154.79 L469.46,150.07 L470.05,146.12 L471.43,135.91 L472.92,126.12 L473.37,123.90 L473.76,122.32 L474.25,120.61 L474.85,118.74 L475.57,116.83 L475.96,115.96 L476.36,115.20 L476.78,114.59 L477.20,114.18 L477.62,114.00 L478.03,114.10 L478.44,114.44 L478.84,114.99 L479.23,115.71 L479.60,116.56 L479.95,117.49 L480.58,119.43 L481.10,121.26 L481.51,122.94 L482.11,125.99 L482.56,129.56 L483.07,135.62 L485.25,167.33 L485.93,176.00 L486.83,185.44 L489.31,209.00 L490.40,220.00" fill="none" stroke="#79d27b" stroke-width="0.9" stroke-linejoin="round" stroke-linecap="round" clip-path="url(#rc)"/>
<path d="M441.70,99.50 L445.63,117.97 L447.98,128.28 L449.82,135.61 L456.52,161.20 L457.22,163.37 L457.87,164.73 L458.27,165.38 L458.74,166.00 L459.27,166.59 L459.89,167.13 L460.57,167.60 L461.27,167.91 L461.96,168.00 L462.62,167.83 L463.24,167.42 L463.81,166.85 L464.33,166.19 L465.23,164.81 L465.96,163.44 L466.82,161.40 L467.29,160.02 L467.91,157.90 L468.76,154.24 L469.45,150.49 L470.99,140.75 L471.45,138.53 L472.03,136.30 L473.85,130.52 L475.60,123.99 L476.18,122.10 L476.51,121.21 L476.84,120.44 L477.18,119.86 L477.51,119.54 L477.84,119.54 L478.15,119.87 L478.45,120.46 L478.73,121.24 L479.21,123.11 L479.59,124.95 L480.36,129.32 L480.66,130.68 L482.05,135.78 L482.61,138.03 L483.03,140.28 L483.35,142.52 L483.64,145.51 L483.87,148.52 L484.73,163.61 L485.65,174.90 L486.87,187.69 L489.24,210.23 L490.20,220.00" fill="none" stroke="#6aaaf6" stroke-width="0.9" stroke-linejoin="round" stroke-linecap="round" clip-path="url(#rc)"/>
<path d="M445.10,99.50 L446.57,105.35 L448.09,112.41 L451.51,130.15 L454.25,143.11 L454.79,146.08 L455.89,152.62 L456.59,156.17 L457.33,159.08 L457.86,160.81 L458.27,161.95 L459.02,163.59 L459.63,164.63 L459.98,165.13 L460.77,166.09 L461.21,166.54 L462.22,167.37 L462.76,167.73 L463.32,168.01 L463.89,168.21 L464.45,168.30 L465.01,168.27 L465.55,168.11 L466.07,167.84 L466.57,167.48 L467.04,167.05 L467.50,166.58 L468.34,165.58 L469.08,164.56 L470.03,163.00 L470.79,161.40 L471.38,159.74 L471.70,158.58 L472.08,156.81 L473.11,150.84 L473.53,149.14 L473.90,148.04 L474.39,146.94 L475.04,145.84 L475.88,144.74 L476.36,144.29 L476.86,143.95 L477.36,143.80 L477.86,143.88 L478.35,144.16 L478.81,144.59 L479.25,145.11 L480.01,146.23 L480.62,147.33 L481.10,148.41 L481.62,150.06 L481.86,151.19 L482.03,152.36 L482.21,154.15 L482.57,159.65 L482.87,162.06 L483.41,165.03 L484.91,172.08 L485.31,174.44 L485.64,176.82 L486.08,181.02 L486.75,189.45 L487.14,193.65 L489.19,212.20 L489.90,220.00" fill="none" stroke="#f8a95c" stroke-width="0.9" stroke-linejoin="round" stroke-linecap="round" clip-path="url(#rc)"/>
<path d="M408.3,99.9 L408.3,217.9 Q408.3,219.9 410.3,219.9 L518.7,219.9" fill="none" stroke="#4470c4" stroke-width="1.7"/>
<path d="M411.3,219.9 L518.7,219.9" fill="none" stroke="#6f9adf" stroke-width="1.6"/>
<line x1="405.3" y1="215.00" x2="407.7" y2="215.00" stroke="#585858" stroke-width="0.9"/>
<text y="217.40" font-family='"Liberation Serif", "DejaVu Serif", serif' fill="#5c5c5c" stroke="#5c5c5c" stroke-width="0.18" xml:space="preserve"><tspan font-size="7.5" x="401.04">5</tspan></text>
<line x1="405.3" y1="201.41" x2="407.7" y2="201.41" stroke="#585858" stroke-width="0.9"/>
<text y="203.81" font-family='"Liberation Serif", "DejaVu Serif", serif' fill="#5c5c5c" stroke="#5c5c5c" stroke-width="0.18" xml:space="preserve"><tspan font-size="7.5" x="393.82 397.43 401.04">5.1</tspan></text>
<line x1="405.3" y1="187.82" x2="407.7" y2="187.82" stroke="#585858" stroke-width="0.9"/>
<text y="190.22" font-family='"Liberation Serif", "DejaVu Serif", serif' fill="#5c5c5c" stroke="#5c5c5c" stroke-width="0.18" xml:space="preserve"><tspan font-size="7.5" x="393.82 397.43 401.04">5.2</tspan></text>
<line x1="405.3" y1="174.23" x2="407.7" y2="174.23" stroke="#585858" stroke-width="0.9"/>
<text y="176.63" font-family='"Liberation Serif", "DejaVu Serif", serif' fill="#5c5c5c" stroke="#5c5c5c" stroke-width="0.18" xml:space="preserve"><tspan font-size="7.5" x="393.82 397.43 401.04">5.3</tspan></text>
<line x1="405.3" y1="160.64" x2="407.7" y2="160.64" stroke="#585858" stroke-width="0.9"/>
<text y="163.04" font-family='"Liberation Serif", "DejaVu Serif", serif' fill="#5c5c5c" stroke="#5c5c5c" stroke-width="0.18" xml:space="preserve"><tspan font-size="7.5" x="393.82 397.43 401.04">5.4</tspan></text>
<line x1="405.3" y1="147.05" x2="407.7" y2="147.05" stroke="#585858" stroke-width="0.9"/>
<text y="149.45" font-family='"Liberation Serif", "DejaVu Serif", serif' fill="#5c5c5c" stroke="#5c5c5c" stroke-width="0.18" xml:space="preserve"><tspan font-size="7.5" x="393.82 397.43 401.04">5.5</tspan></text>
<line x1="405.3" y1="133.46" x2="407.7" y2="133.46" stroke="#585858" stroke-width="0.9"/>
<text y="135.86" font-family='"Liberation Serif", "DejaVu Serif", serif' fill="#5c5c5c" stroke="#5c5c5c" stroke-width="0.18" xml:space="preserve"><tspan font-size="7.5" x="393.82 397.43 401.04">5.6</tspan></text>
<line x1="405.3" y1="119.87" x2="407.7" y2="119.87" stroke="#585858" stroke-width="0.9"/>
<text y="122.27" font-family='"Liberation Serif", "DejaVu Serif", serif' fill="#5c5c5c" stroke="#5c5c5c" stroke-width="0.18" xml:space="preserve"><tspan font-size="7.5" x="393.82 397.43 401.04">5.7</tspan></text>
<line x1="405.3" y1="106.28" x2="407.7" y2="106.28" stroke="#585858" stroke-width="0.9"/>
<text y="108.68" font-family='"Liberation Serif", "DejaVu Serif", serif' fill="#5c5c5c" stroke="#5c5c5c" stroke-width="0.18" xml:space="preserve"><tspan font-size="7.5" x="393.82 397.43 401.04">5.8</tspan></text>
<line x1="436.00" y1="220.70000000000002" x2="436.00" y2="222.3" stroke="#585858" stroke-width="0.9"/>
<text y="228.60" font-family='"Liberation Serif", "DejaVu Serif", serif' fill="#5c5c5c" stroke="#5c5c5c" stroke-width="0.18" xml:space="preserve"><tspan font-size="7.5" x="430.44 434.05 437.66">2.5</tspan></text>
<line x1="468.50" y1="220.70000000000002" x2="468.50" y2="222.3" stroke="#585858" stroke-width="0.9"/>
<text y="228.60" font-family='"Liberation Serif", "DejaVu Serif", serif' fill="#5c5c5c" stroke="#5c5c5c" stroke-width="0.18" xml:space="preserve"><tspan font-size="7.5" x="462.94 466.55 470.16">2.6</tspan></text>
<line x1="501.10" y1="220.70000000000002" x2="501.10" y2="222.3" stroke="#585858" stroke-width="0.9"/>
<text y="228.60" font-family='"Liberation Serif", "DejaVu Serif", serif' fill="#5c5c5c" stroke="#5c5c5c" stroke-width="0.18" xml:space="preserve"><tspan font-size="7.5" x="495.54 499.15 502.76">2.7</tspan></text>
<line x1="498.20" y1="118.70" x2="485.30" y2="118.70" stroke="#111" stroke-width="1.3"/>
<polygon points="481.20,118.70 485.80,117.10 485.80,120.30" fill="#111"/>
<text x="499" y="121" font-family='"Liberation Serif", "DejaVu Serif", serif' font-size="9.5" fill="#111" text-anchor="start" stroke="#111" stroke-width="0.25" letter-spacing="-0.06">30 min</text>
<line x1="498.20" y1="135.00" x2="481.90" y2="135.00" stroke="#111" stroke-width="1.3"/>
<polygon points="477.80,135.00 482.40,133.40 482.40,136.60" fill="#111"/>
<text x="499" y="137" font-family='"Liberation Serif", "DejaVu Serif", serif' font-size="9.5" fill="#111" text-anchor="start" stroke="#111" stroke-width="0.25" letter-spacing="-0.06">60 min</text>
<line x1="498.20" y1="159.30" x2="482.50" y2="159.30" stroke="#111" stroke-width="1.3"/>
<polygon points="478.40,159.30 483.00,157.70 483.00,160.90" fill="#111"/>
<text x="499" y="162" font-family='"Liberation Serif", "DejaVu Serif", serif' font-size="9.5" fill="#111" text-anchor="start" stroke="#111" stroke-width="0.25" letter-spacing="-0.06">90 min</text>
</svg>
</body></html>
